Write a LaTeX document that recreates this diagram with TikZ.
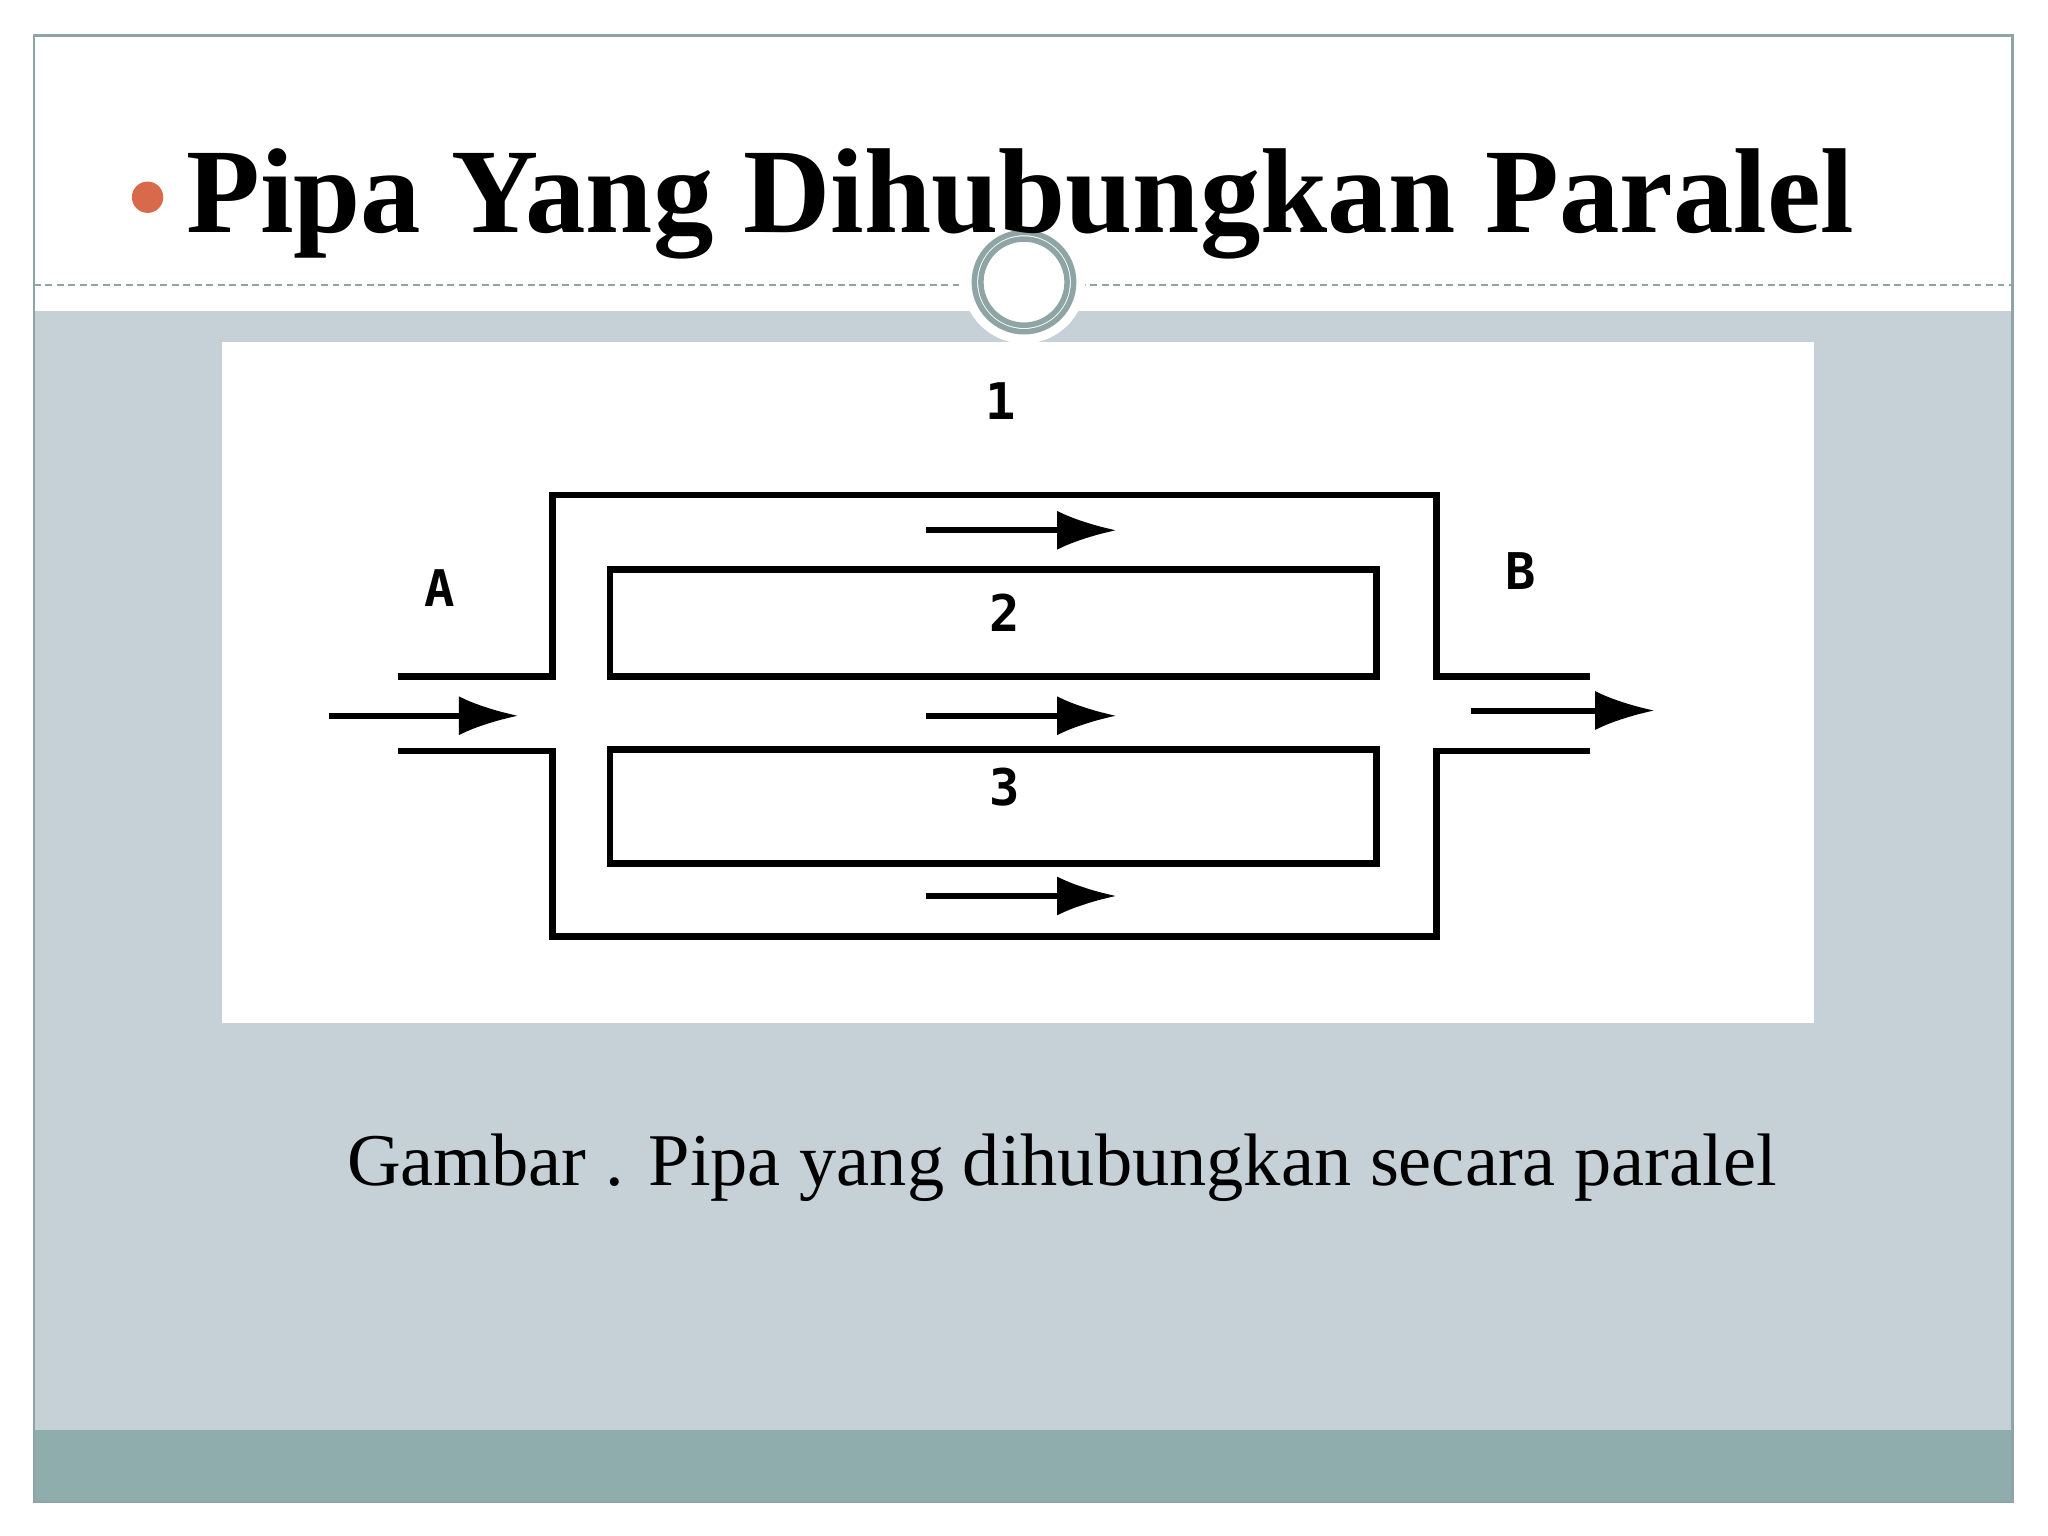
\documentclass[tikz,border=0pt]{standalone}
\usepackage{fontspec}
\setmainfont{Liberation Serif}
\newfontfamily\pix{DejaVu Sans Mono}
\usetikzlibrary{arrows.meta}
\definecolor{bodyc}{HTML}{C5D1D6}
\definecolor{footc}{HTML}{8FADAD}
\definecolor{framec}{HTML}{8FA5A5}
\definecolor{bulc}{HTML}{D9694B}
\tikzset{pipe/.style={line width=1.5pt,line cap=rect},
flow/.style={line width=1.3pt,-{Latex[length=13pt,width=8.5pt]}},
lab/.style={font=\pix\bfseries\fontsize{11}{12}\selectfont}}
\begin{document}
\begin{tikzpicture}[x=0.01cm,y=-0.01cm]
\useasboundingbox (0,0) rectangle (1568,1176);
\fill[white] (0,0) rectangle (1568,1176);
\fill[bodyc] (26,238) rectangle (1541,1095);
\fill[footc] (26,1095) rectangle (1541,1150);
\draw[framec,line width=0.6pt] (26,27) rectangle (1541,1150);
\draw[framec,dash pattern=on 1.5pt off 1pt,line width=0.4pt] (26,218) -- (1541,218);
\fill[white] (784,216) circle (47);
\draw[framec,line width=1.2pt] (784,216) circle (38);
\draw[framec,line width=1.2pt] (784,216) circle (33);
\fill[bulc] (113,151) circle (12);
\node[anchor=base west,inner sep=0,font=\bfseries\fontsize{26.3}{30}\selectfont] (title) at (142,178) {Pipa Yang Dihubungkan Paralel};
\fill[white] (170,262) rectangle (1389,783);
\draw[pipe] (307,518) -- (423,518) -- (423,379) -- (1100,379) -- (1100,518) -- (1215,518);
\draw[pipe] (307,575) -- (423,575) -- (423,717) -- (1100,717) -- (1100,575) -- (1215,575);
\draw[pipe] (467,436) rectangle (1054,518);
\draw[pipe] (467,574) rectangle (1054,661);
\coordinate (a1) at (709,406); \coordinate (b1) at (855,406);
\coordinate (a2) at (709,548); \coordinate (b2) at (855,548);
\coordinate (a3) at (709,686); \coordinate (b3) at (855,686);
\coordinate (ai) at (252,548); \coordinate (bi) at (397,548);
\coordinate (ao) at (1126,544); \coordinate (bo) at (1267,544);
\foreach \i in {1,2,3,i,o} \draw[flow] (a\i) -- (b\i);
\node[lab] (l1) at (766,307) {1};
\node[lab] (lA) at (337,450) {A};
\node[lab] (lB) at (1164,437) {B};
\node[lab] (l2) at (769,469) {2};
\node[lab] (l3) at (769,603) {3};
\node[anchor=base west,inner sep=0,font=\fontsize{16.2}{18}\selectfont] (cap) at (265,908) {Gambar . Pipa yang dihubungkan secara paralel};
\end{tikzpicture}
\end{document}
